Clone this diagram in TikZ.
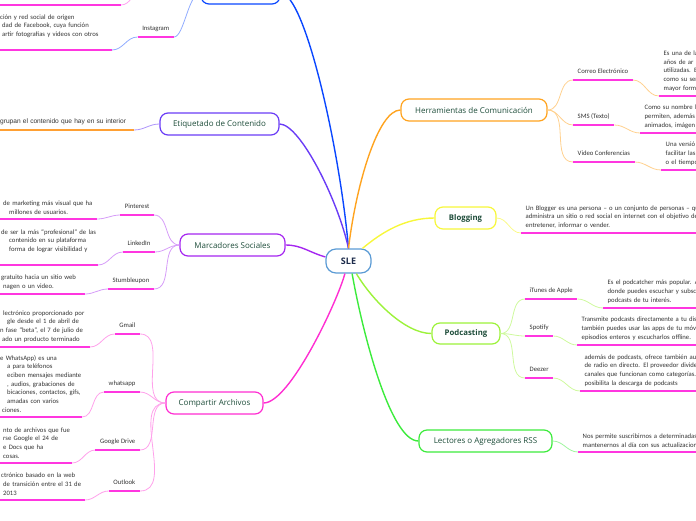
\documentclass[tikz,border=0pt]{standalone}
\usepackage{fontspec}
\setmainfont{Carlito}
\newfontfamily\headfont{Open Sans}
\newfontfamily\arialfont{Liberation Sans}
\definecolor{hubtext}{HTML}{1E4D3A}
\definecolor{sletext}{HTML}{1C2B4B}
\definecolor{leaftext}{HTML}{333333}
\definecolor{sleblue}{HTML}{5B9BD5}
\definecolor{topblue}{HTML}{0A47FF}
\definecolor{etiqc}{HTML}{6A3CF6}
\definecolor{marcc}{HTML}{A526F0}
\definecolor{compc}{HTML}{FF2ED2}
\definecolor{herrc}{HTML}{FFA31F}
\definecolor{blogc}{HTML}{F7F73A}
\definecolor{podcc}{HTML}{9CF23A}
\definecolor{lectc}{HTML}{3CEB3C}
\definecolor{ulmag}{HTML}{FF36E0}
\definecolor{ulorange}{HTML}{FFA033}
\begin{document}
\begin{tikzpicture}[x=1pt, y=-1pt,
    hub/.style={draw, line width=1.2pt, rounded corners=8pt, fill=white, text=hubtext,
        font=\headfont\fontsize{8}{9.6}\selectfont, minimum height=22pt, inner sep=0pt},
    twig/.style={font=\fontsize{6.7}{8}\selectfont, text=leaftext, inner xsep=4.5pt,
        inner ysep=4.5pt, text depth=1.5pt},
    leaf/.style={font=\fontsize{6.7}{8.7}\selectfont, text=leaftext, align=left,
        text width=250pt, anchor=south west, inner ysep=4.5pt},
    rleaf/.style={leaf, inner xsep=4.5pt},
    lleaf/.style={leaf, inner xsep=0pt},
    uline/.style={draw=ulmag, line width=1.4pt},
    trunk/.style={line width=1.4pt},
    twigline/.style={line width=0.8pt}]
\useasboundingbox (0,0) rectangle (696,520);
\clip (0,0) rectangle (696,520);

% central topic and main branches
\node[hub, draw=sleblue, rounded corners=10pt, minimum width=45pt, minimum height=24pt,
    text=sletext, font=\headfont\bfseries\fontsize{9}{11}\selectfont] (sle) at (348.5,261) {SLE};
\node[hub, draw=topblue, minimum width=79pt] (top) at (240.5,-7) {};
\node[hub, draw=etiqc, minimum width=119pt] (etiq) at (219.5,124) {Etiquetado de Contenido};
\node[hub, draw=marcc, minimum width=105pt] (marc) at (232.5,245) {Marcadores Sociales};
\node[hub, draw=compc, minimum width=97pt] (comp) at (214.5,403) {Compartir Archivos};
\node[hub, draw=herrc, minimum width=146pt] (herr) at (474,110) {Herramientas de Comunicación};
\node[hub, draw=blogc, minimum width=61pt, font=\headfont\bfseries\fontsize{7.8}{9}\selectfont] (blog) at (465.5,218) {Blogging};
\node[hub, draw=podcc, minimum width=68pt, minimum height=21pt, font=\headfont\bfseries\fontsize{7.8}{9}\selectfont] (podc) at (466,333.5) {Podcasting};
\node[hub, draw=lectc, minimum width=133pt] (lect) at (485.5,441) {Lectores o Agregadores RSS};

% sub topics
\node[twig, anchor=south west] (correo) at (573,80) {Correo Electrónico};
\node[twig, anchor=south west] (sms) at (573,125) {SMS (Texto)};
\node[twig, anchor=south west] (video) at (573,162) {Video Conferencias};
\node[twig, anchor=south west] (itunes) at (525,299) {iTunes de Apple};
\node[twig, anchor=south west] (spotify) at (525,336) {Spotify};
\node[twig, anchor=south west] (deezer) at (525,378) {Deezer};
\node[twig, anchor=south east] (insta) at (174,37) {Instagram};
\node[twig, anchor=south east] (pint) at (154,215) {Pinterest};
\node[twig, anchor=south east] (linked) at (155,252) {LinkedIn};
\node[twig, anchor=south east] (stumble) at (154,289) {Stumbleupon};
\node[twig, anchor=south east] (gmail) at (140,334) {Gmail};
\node[twig, anchor=south east] (whats) at (140,392) {whatsapp};
\node[twig, anchor=south east] (drive) at (140,450) {Google Drive};
\node[twig, anchor=south east] (outlook) at (140,491) {Outlook};

% notes on the right
\node[rleaf] (correoleaf) at (659,96) {Es una de la\\años de ar\\utilizadas. E\\como su ser\\mayor form};
\node[rleaf] (smsleaf) at (640,133) {Como su nombre l\\permiten, además\\animados, imágen};
\node[rleaf] (videoleaf) at (661,170) {Una versió\\facilitar las\\o el tiempo};
\node[rleaf] (blogleaf) at (521,233) {Un Blogger es una persona – o un conjunto de personas – qu\\administra un sitio o red social en internet con el objetivo de\\entretener, informar o vender.};
\node[rleaf] (itunesleaf) at (603,308) {Es el podcatcher más popular. A\\donde puedes escuchar y subsc\\podcasts de tu interés.};
\node[rleaf] (spotifyleaf) at (577,345) {Transmite podcasts directamente a tu dis\\también puedes usar las apps de tu móvil\\episodios enteros y escucharlos offline.};
\node[rleaf] (deezerleaf) at (580,391) {además de podcasts, ofrece también au\\de radio en directo. El proveedor divide l\\canales que funcionan como categorías.\\posibilita la descarga de podcasts};
\node[rleaf] (lectleaf) at (578,452) {Nos permite suscribirnos a determinadas\\mantenernos al día con sus actualizacion};

% notes on the left
\node[lleaf] (instaleaf) at (0,50) {ción y red social de origen\\\hspace*{2pt}dad de Facebook, cuya función\\\hspace*{2pt}artir fotografías y videos con otros\\\mbox{}};
\node[lleaf, font=\arialfont\fontsize{6.6}{8}\selectfont] (etiqleaf) at (0,130) {grupan el contenido que hay en su interior};
\node[lleaf] (pintleaf) at (0,219) {\hspace*{3pt}de marketing más visual que ha\\\hspace*{9pt}millones de usuarios.};
\node[lleaf] (linkedleaf) at (0,265) {\hspace*{1pt}de ser la más “profesional” de las\\\hspace*{9pt}contenido en su plataforma\\\hspace*{9pt}forma de lograr visibilidad y\\\mbox{}};
\node[lleaf] (stumbleleaf) at (0,294) {\hspace*{1pt}gratuito hacia un sitio web\\\hspace*{3pt}nagen o un video.};
\node[lleaf] (gmailleaf) at (0,347) {\hspace*{3pt}lectrónico proporcionado por\\\hspace*{7pt}gle desde el 1 de abril de\\n fase “beta”, el 7 de julio de\\\hspace*{2pt}ado un producto terminado};
\node[lleaf] (whatsleaf) at (0,417) {e WhatsApp) es una\\\hspace*{7pt}a para teléfonos\\\hspace*{7pt}eciben mensajes mediante\\\hspace*{7pt}, audios, grabaciones de\\\hspace*{7pt}bicaciones, contactos, gifs,\\\hspace*{7pt}amadas con varios\\\hspace*{2pt}ciones.};
\node[lleaf] (driveleaf) at (0,463) {\hspace*{3pt}nto de archivos que fue\\\hspace*{3pt}rse Google el 24 de\\\hspace*{3pt}e Docs que ha\\\hspace*{3pt}cosas.};
\node[lleaf] (outlookleaf) at (0,500) {\hspace*{1pt}ctrónico basado en la web\\\hspace*{3pt}de transición entre el 31 de\\\hspace*{3pt}2013};

% main connectors
\draw[trunk, topblue] (sle.north) .. controls (340,150) and (305,-7) .. (top.east);
\draw[trunk, etiqc] (sle.north) .. controls (338,200) and (300,124) .. (etiq.east);
\draw[trunk, herrc] (sle.north) .. controls (356,185) and (378,110) .. (herr.west);
\draw[trunk, blogc] (sle.42) .. controls (382,232) and (405,218) .. (blog.west);
\draw[trunk, marcc] (sle.170) to[out=165, in=0] (marc.east);
\draw[trunk, compc] (sle.254) .. controls (338,300) and (290,403) .. (comp.east);
\draw[trunk, podcc] (sle.302) .. controls (372,300) and (405,333.5) .. (podc.west);
\draw[trunk, lectc] (sle.286) .. controls (362,330) and (390,441) .. (lect.west);

% underlines of the left notes
\draw[uline] (instaleaf.south west) -- ++(112,0) coordinate (instaend);
\draw[draw=ulorange, line width=1.4pt] (etiqleaf.south west) -- ++(134,0) coordinate (etiqend);
\draw[uline] (pintleaf.south west) -- ++(97,0) coordinate (pintend);
\draw[uline] (linkedleaf.south west) -- ++(98,0) coordinate (linkedend);
\draw[uline] (stumbleleaf.south west) -- ++(85,0) coordinate (stumbleend);
\draw[uline] (gmailleaf.south west) -- ++(90,0) coordinate (gmailend);
\draw[uline] (whatsleaf.south west) -- ++(82,0) coordinate (whatsend);
\draw[uline] (driveleaf.south west) -- ++(72,0) coordinate (driveend);
\draw[uline] (outlookleaf.south west) -- ++(85,0) coordinate (outlookend);
\draw[uline] (-5,5) -- (121,5) coordinate (hidend);
\coordinate (hidtwig) at (142,-8);

% sub connectors
\draw[twigline, topblue!45] (top.west) .. controls +(-12,0) and +(10,0) .. (insta.south east);
\draw[twigline, topblue!45] (instaend) to[out=0, in=180] (insta.south west);
\draw[twigline, ulmag!45] (hidend) to[out=0, in=180] (hidtwig);
\draw[twigline, etiqc!55] (etiq.west) to[out=180, in=0] (etiqend);
\foreach \n in {pint,linked,stumble} {
    \draw[twigline, marcc!45] (marc.west) to[out=180, in=0] (\n.south east);
    \draw[twigline, marcc!45] (\n end) to[out=0, in=180] (\n.south west);
}
\foreach \n in {gmail,whats,drive,outlook} {
    \draw[twigline, compc!45] (comp.west) to[out=180, in=0] (\n.south east);
    \draw[twigline, compc!45] (\n end) to[out=0, in=180] (\n.south west);
}
\foreach \n in {correo,sms,video} {
    \draw[twigline, herrc!50] (herr.east) to[out=0, in=180] (\n.south west);
    \draw[twigline, herrc!50] (\n.south east) to[out=0, in=180] (\n leaf.south west);
}
\foreach \n in {itunes,spotify,deezer} {
    \draw[twigline, podcc!50] (podc.east) to[out=0, in=180] (\n.south west);
    \draw[twigline, podcc!50] (\n.south east) to[out=0, in=180] (\n leaf.south west);
}
\draw[twigline, blogc!60] (blog.east) to[out=0, in=180] (blogleaf.south west);
\draw[twigline, lectc!50] (lect.east) to[out=0, in=180] (lectleaf.south west);

% underlines of sub topics and right notes
\foreach \n in {correo,sms,video,itunes,spotify,deezer,insta,pint,linked,stumble,gmail,whats,drive,outlook,
    correoleaf,smsleaf,videoleaf,blogleaf,itunesleaf,spotifyleaf,deezerleaf,lectleaf}
    \draw[uline] (\n.south west) -- (\n.south east);
\end{tikzpicture}
\end{document}
